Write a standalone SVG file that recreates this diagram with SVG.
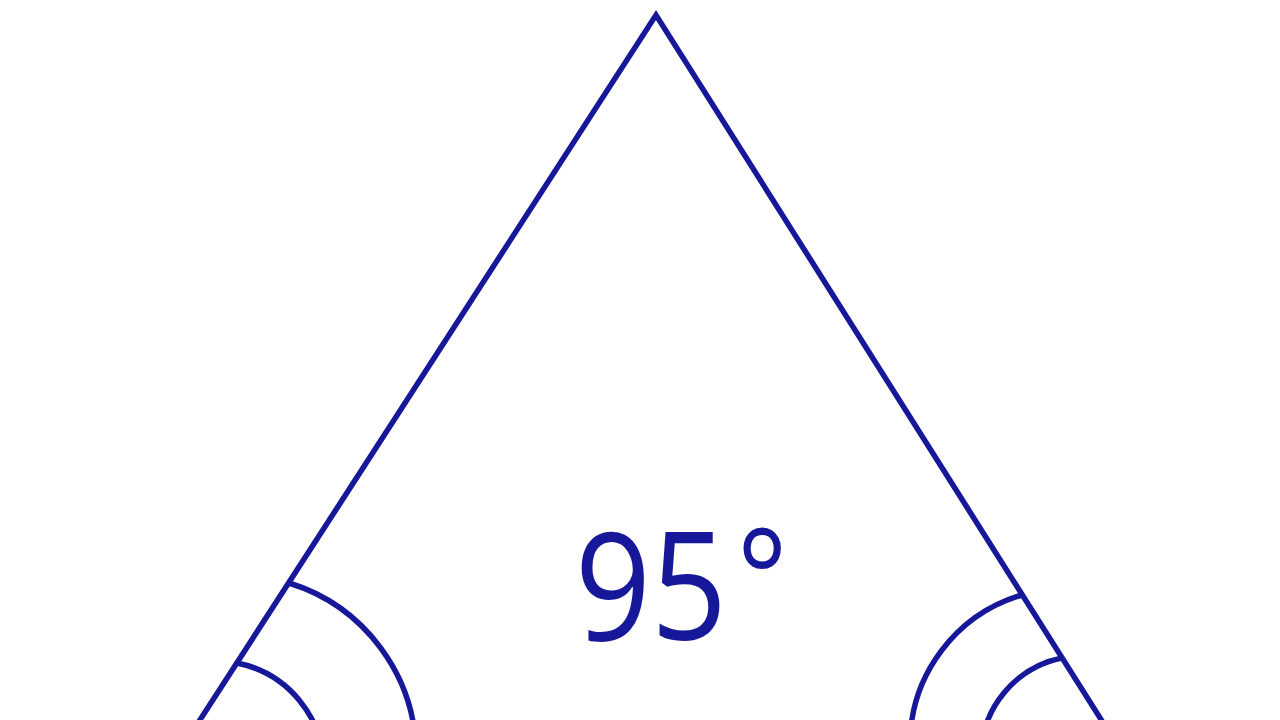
<svg xmlns="http://www.w3.org/2000/svg" width="1280" height="720" viewBox="0 0 1280 720">
<style>
.ln{fill:none;stroke:#17179a;stroke-width:5.5;stroke-linejoin:miter;stroke-miterlimit:10}
.lbl{font-family:"Open Sans","Liberation Sans",sans-serif;fill:#17179a}
</style>
<rect width="1280" height="720" fill="#ffffff"/>
<g id="triangle">
<path class="ln" d="M187,740 L656,15 L1114,740"/>
</g>
<g id="connectors">
<path class="ln" d="M289,583 A180,180 0 0 1 416,755"/>
<path class="ln" d="M237,663 A108,108 0 0 1 324,769"/>
<path class="ln" d="M1022,595 A156,156 0 0 0 910,744"/>
<path class="ln" d="M1062,658 A101,101 0 0 0 981,757"/>
</g>
<g id="label">
<text class="lbl" transform="matrix(0.88 0 0 1 575 640)" x="0" y="0" font-size="151">95<tspan font-size="135" dx="11" dy="-14">°</tspan></text>
</g>
</svg>
